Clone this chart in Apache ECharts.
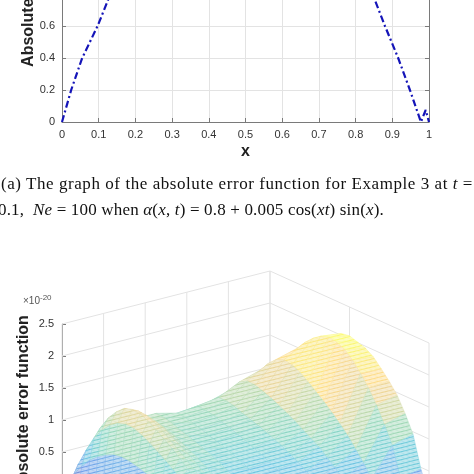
<!DOCTYPE html>
<html><head><meta charset="utf-8">
<script src="https://cdn.jsdelivr.net/npm/echarts@6/dist/echarts.min.js"></script>
<style>
html,body{margin:0;padding:0;background:#fff;overflow:hidden}
#wrap{position:relative;width:474px;height:474px;overflow:hidden}
#chart{position:absolute;left:0;top:-200px;width:474px;height:720px}
.cap{position:absolute;white-space:nowrap;font-family:"Liberation Serif","DejaVu Serif",serif;font-size:17px;color:#111;line-height:20px}
#cap1{left:1px;top:174px}
#cap2{left:-2px;top:200px}
</style></head>
<body>
<div id="wrap">
  <div id="chart"></div>
  <div id="cap1" class="cap">(a) The graph of the absolute error function for Example 3 at <i>t</i> =</div>
  <div id="cap2" class="cap">0.1, &nbsp;<i>Ne</i> = 100 when <i>α</i>(<i>x</i>, <i>t</i>) = 0.8 + 0.005 cos(<i>xt</i>) sin(<i>x</i>).</div>
</div>
<script>
/* ===== 上图：t=0.1 绝对误差曲线（点划线）；下图：误差曲面（网格，手工投影） ===== */
// 上图数据：可见段读图，中间被裁掉的部分为估计
const TOP_X  =[0,0.025,0.055,0.097,0.125,0.2,0.3,0.4,0.5,0.6,0.7,0.8,0.853,0.88,0.916,0.948,0.978,0.991,1];
const TOP_ERR=[0,0.2,0.4,0.6,0.76,1.15,1.45,1.62,1.7,1.65,1.45,1.05,0.76,0.6,0.4,0.2,0,0.075,0];

// 下图：t 方向(左墙) × x 方向(右墙) 网格，误差单位 1e-20
const T_GRID=[0,0.002,0.004,0.007,0.01,0.015,0.02,0.03,0.04,0.05,0.06,0.07,0.08,0.09,0.1];
const X_GRID=[0,0.05,0.1,0.15,0.2,0.25,0.3,0.35,0.4,0.45,0.5,0.55,0.6,0.65,0.7,0.75,0.8,0.85,0.9,0.95,1];
const Z_ERR=[
  [0,0,0,0,0,0,0,0,0,0,0,0,0,0,0,0,0,0,0,0,0],
  [0,.2,.38,.53,.64,.72,.78,.8,.79,.76,.72,.67,.62,.57,.51,.45,.38,.3,.21,.1,.02],
  [0,.33,.61,.86,1.04,1.17,1.26,1.3,1.29,1.24,1.17,1.09,1.01,.92,.83,.73,.61,.48,.34,.16,.04],
  [0,.38,.71,.99,1.2,1.35,1.46,1.5,1.49,1.43,1.35,1.26,1.17,1.07,.96,.84,.71,.56,.39,.18,.05],
  [0,.36,.68,.96,1.16,1.31,1.41,1.45,1.44,1.38,1.31,1.22,1.13,1.03,.93,.81,.68,.54,.38,.17,.04],
  [0,.33,.61,.86,1.04,1.17,1.26,1.3,1.29,1.24,1.17,1.09,1.01,.92,.83,.73,.61,.48,.34,.16,.04],
  [0,.41,.72,.94,1.08,1.14,1.16,1.15,1.13,1.08,1.02,.96,.89,.82,.73,.64,.54,.42,.3,.14,.04],
  [0,.45,.78,.97,1.08,1.07,1.04,.99,.95,.91,.86,.81,.76,.69,.63,.54,.45,.36,.25,.12,.03],
  [0,.42,.72,.9,1.0,.99,.96,.92,.88,.84,.8,.75,.7,.64,.58,.5,.42,.33,.23,.11,.03],
  [0,.43,.74,.93,1.03,1.02,.99,.95,.91,.87,.82,.77,.72,.66,.6,.52,.43,.34,.24,.11,.03],
  [0,.45,.78,.97,1.08,1.08,1.05,1.0,.96,.92,.87,.82,.77,.7,.63,.55,.46,.36,.25,.12,.03],
  [0,.46,.81,1.07,1.24,1.31,1.3,1.26,1.21,1.15,1.09,1.02,.94,.86,.79,.68,.58,.45,.31,.16,.04],
  [0,.42,.78,1.1,1.34,1.5,1.62,1.67,1.65,1.59,1.5,1.4,1.3,1.19,1.07,.94,.78,.62,.43,.2,.05],
  [0,.42,.76,1.06,1.31,1.52,1.71,1.86,1.98,2.07,2.11,2.09,2.03,1.92,1.77,1.6,1.39,1.14,.87,.42,.11],
  [0,.41,.74,1.03,1.27,1.48,1.66,1.8,1.93,2.03,2.05,2.01,1.97,1.89,1.76,1.62,1.46,1.23,.96,.47,.1],
];
const T_TICKS=[0,0.02,0.04,0.06,0.08,0.1];
const X_TICKS=[0,0.5,1];
const Z_TICKS=[0,0.5,1,1.5,2,2.5];

// parula 色表（样式）
const PARULA=[[53,42,135],[15,92,221],[20,129,214],[6,163,202],[46,183,164],[100,191,130],
  [165,190,107],[225,185,82],[252,195,55],[245,228,30],[249,251,14]];
function parula(f){
  f=Math.max(0,Math.min(1,f))*(PARULA.length-1);
  const i=Math.min(PARULA.length-2,Math.floor(f)), r=f-i;
  return PARULA[i].map((c,k)=>c+(PARULA[i+1][k]-c)*r);
}
const rgb=(c,m)=>'rgb('+c.map(v=>Math.round(v*m+255*(1-m))).join(',')+')';

// 细网格纹理：白底上两组细线（模拟 mesh 的密集网格线），按颜色缓存
const PAT={};
function meshFill(c){
  const key=c.map(v=>Math.round(v/6)).join(',');
  if(PAT[key]) return PAT[key];
  const cv=document.createElement('canvas'); cv.width=16; cv.height=4;
  const g=cv.getContext('2d');
  g.fillStyle=rgb(c,0.26); g.fillRect(0,0,16,4);
  g.strokeStyle=rgb(c,0.72); g.lineWidth=0.8;
  [-4,0,4].forEach(dy=>{g.beginPath();g.moveTo(0,4+dy);g.lineTo(16,dy);g.stroke();});
  g.strokeStyle=rgb(c,0.45); g.lineWidth=0.5;
  [-8,-4,0,4].forEach(dy=>{g.beginPath();g.moveTo(0,dy);g.lineTo(16,dy+8);g.stroke();});
  return PAT[key]={image:cv,repeat:'repeat'};
}

// 投影：u 为水平(左墙宽=1)，v 用 z 轴单位；左墙方向(208,-53)px，右墙(159,72)px，z 64px/单位
const T_MAX=0.1, X_MAX=1;
function proj(t,x,z){
  const a=t/T_MAX, b=x/X_MAX;
  return [a+b*159/208, z+a*53/64-b*72/64];
}
const depth=(a,b,z)=>-53*a+72*b+8.5*z;   // 越大越近

const ZMAX=Math.max(...Z_ERR.flat());
const QUADS=[];
for(let i=0;i<T_GRID.length-1;i++) for(let j=0;j<X_GRID.length-1;j++){
  const zc=(Z_ERR[i][j]+Z_ERR[i+1][j]+Z_ERR[i][j+1]+Z_ERR[i+1][j+1])/4;
  const a=(T_GRID[i]+T_GRID[i+1])/2/T_MAX, b=(X_GRID[j]+X_GRID[j+1])/2/X_MAX;
  QUADS.push({i,j,zc,d:depth(a,b,zc)});
}
QUADS.sort((p,q)=>p.d-q.d);

// 背墙/地面网格线段
const SEGS=[];
const seg=(p,q)=>SEGS.push([...p,...q]);
const ZTOP=Z_TICKS[Z_TICKS.length-1];
Z_TICKS.forEach(z=>{ seg(proj(0,0,z),proj(T_MAX,0,z)); seg(proj(T_MAX,0,z),proj(T_MAX,X_MAX,z)); });
T_TICKS.forEach(t=>{ seg(proj(t,0,0),proj(t,0,ZTOP)); seg(proj(t,0,0),proj(t,X_MAX,0)); });
X_TICKS.forEach(x=>{ seg(proj(T_MAX,x,0),proj(T_MAX,x,ZTOP)); seg(proj(0,x,0),proj(T_MAX,x,0)); });

const AX='#7a7a7a', LBL='#333', GRID='#e3e3e3';
const FONT='"Liberation Sans",Arial,sans-serif';
const OFF=200;   // 画布上移 200px，让被裁掉的部分仍在画布内

const chart=echarts.init(document.getElementById('chart'),null,{renderer:'canvas'});
chart.setOption({
  animation:false,
  textStyle:{fontFamily:FONT},
  grid:[
    {left:62,top:OFF-166,width:367,height:288},
    {left:62,top:OFF+324,width:208,height:160},
  ],
  xAxis:[
    {gridIndex:0,type:'value',min:0,max:1,interval:0.1,
     name:'x',nameLocation:'middle',nameGap:22,nameMoveOverlap:false,
     nameTextStyle:{fontSize:16,fontWeight:'bold',color:'#222'},
     axisLine:{lineStyle:{color:AX}},axisTick:{inside:true,length:4,lineStyle:{color:AX}},
     axisLabel:{fontSize:11,color:LBL,margin:7},splitLine:{show:true,lineStyle:{color:GRID}}},
    {gridIndex:1,type:'value',min:0,max:1,show:false},
  ],
  yAxis:[
    {gridIndex:0,type:'value',min:0,max:1.8,interval:0.2,
     name:'Absolute error function',nameLocation:'middle',nameGap:25,nameMoveOverlap:false,
     nameTextStyle:{fontSize:16,fontWeight:'bold',color:'#222'},
     axisLine:{show:true,lineStyle:{color:AX}},axisTick:{inside:true,length:4,lineStyle:{color:AX}},
     axisLabel:{fontSize:11,color:LBL,margin:7},splitLine:{show:true,lineStyle:{color:GRID}}},
    {gridIndex:0,type:'value',min:0,max:1.8,interval:0.2,position:'right',
     axisLine:{show:true,lineStyle:{color:AX}},axisTick:{inside:true,length:4,lineStyle:{color:AX}},
     axisLabel:{show:false},splitLine:{show:false}},
    {gridIndex:1,type:'value',min:0,max:2.5,interval:0.5,
     name:'Absolute error function',nameLocation:'middle',nameGap:30,nameMoveOverlap:false,
     nameTextStyle:{fontSize:16,fontWeight:'bold',color:'#222'},
     axisLine:{show:true,lineStyle:{color:AX}},axisTick:{inside:true,length:4,lineStyle:{color:AX}},
     axisLabel:{fontSize:11,color:LBL,margin:8},splitLine:{show:false}},
  ],
  graphic:[{type:'text',left:23,top:OFF+294,style:{
    text:'×10{s|-20}',fill:'#555',font:'10px '+FONT,
    rich:{s:{fontSize:8,verticalAlign:'top',padding:[0,0,6,0],fill:'#555'}}}}],
  series:[
    {type:'line',xAxisIndex:0,yAxisIndex:0,showSymbol:false,clip:false,
     lineStyle:{width:2.2,color:'#1414b8',type:[7,3,2,3]},
     data:TOP_X.map((x,i)=>[x,TOP_ERR[i]])},
    {type:'custom',xAxisIndex:1,yAxisIndex:2,clip:false,z:1,
     data:SEGS,
     renderItem:(p,api)=>{
       const s=SEGS[p.dataIndex], a=api.coord([s[0],s[1]]), b=api.coord([s[2],s[3]]);
       return {type:'line',shape:{x1:a[0],y1:a[1],x2:b[0],y2:b[1]},style:{stroke:GRID,lineWidth:1}};
     }},
    {type:'custom',xAxisIndex:1,yAxisIndex:2,clip:false,z:2,
     data:QUADS.map(q=>[q.i,q.j]),
     renderItem:(p,api)=>{
       const q=QUADS[p.dataIndex];
       const pts=[[q.i,q.j],[q.i+1,q.j],[q.i+1,q.j+1],[q.i,q.j+1]]
         .map(([i,j])=>api.coord(proj(T_GRID[i],X_GRID[j],Z_ERR[i][j])));
       const c=parula(q.zc/ZMAX);
       return {type:'polygon',z2:p.dataIndex,shape:{points:pts},
         style:{fill:meshFill(c),stroke:rgb(c,0.5),lineWidth:0.4}};
     }},
  ],
});

// 标题两行按原图宽度拉开字距
function fitWidth(id,target){
  const el=document.getElementById(id);
  const w=el.getBoundingClientRect().width, n=el.textContent.length;
  el.style.letterSpacing=((target-w)/n).toFixed(3)+'px';
}
fitWidth('cap1',472);
fitWidth('cap2',386);
</script>
</body></html>
